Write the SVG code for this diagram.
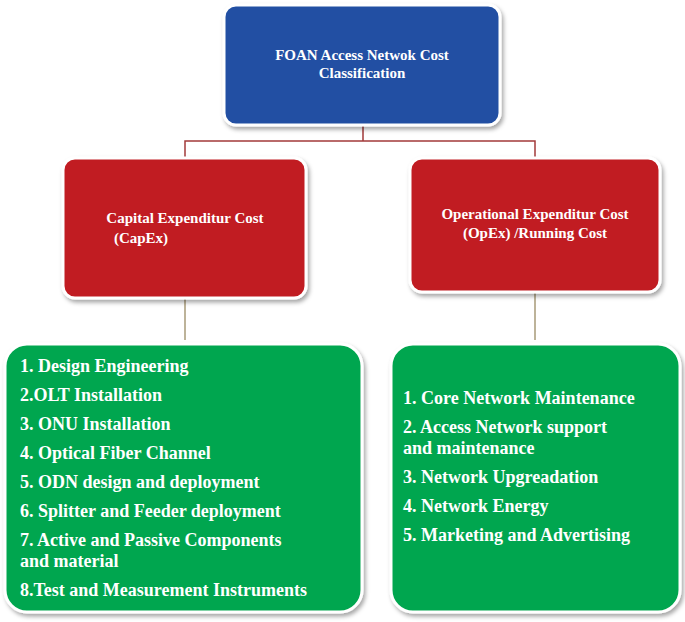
<svg xmlns="http://www.w3.org/2000/svg" width="685" height="622" viewBox="0 0 685 622">
<defs>
<filter id="sh" x="-10%" y="-10%" width="120%" height="120%"><feDropShadow dx="2" dy="3" stdDeviation="2" flood-color="#000" flood-opacity="0.35"/></filter>
<style>
.b{stroke:#fff;stroke-width:3;filter:url(#sh)}
.t{font-family:"Liberation Serif",serif;font-weight:bold;fill:#fff}
.h{font-size:15px;text-anchor:middle}
.l{font-size:18px}
</style>
</defs>
<rect width="685" height="622" fill="#fff"/>
<g id="connectors" fill="none">
<path d="M363 125V141H185V158M363 141H535V158" stroke="#a33a3a" stroke-width="1.5"/>
<path d="M185 298V340M535 292V340" stroke="#a89a78" stroke-width="1.5"/>
</g>
<g id="root"><rect class="b" x="224" y="5" width="276" height="120" rx="12" fill="#2150a3"/>
<text class="t h" x="362" y="60">FOAN Access Netwok Cost</text><text class="t h" x="362" y="78">Classification</text></g>
<g id="capex"><rect class="b" x="63" y="158" width="243" height="140" rx="12" fill="#c11b20"/>
<text class="t h" x="185" y="223">Capital Expenditur Cost</text><text class="t h" x="141" y="243">(CapEx)</text></g>
<g id="opex"><rect class="b" x="410" y="158" width="250" height="134" rx="12" fill="#c11b20"/>
<text class="t h" x="535" y="219">Operational Expenditur Cost</text><text class="t h" x="535" y="238">(OpEx) /Running Cost</text></g>
<g id="capex-list"><rect class="b" x="5" y="344" width="357" height="268" rx="22" fill="#02a64f"/>
<text class="t l" x="20" y="372">1. Design Engineering</text>
<text class="t l" x="20" y="401">2.OLT Installation</text>
<text class="t l" x="20" y="430">3. ONU Installation</text>
<text class="t l" x="20" y="459">4. Optical Fiber Channel</text>
<text class="t l" x="20" y="488">5. ODN design and deployment</text>
<text class="t l" x="20" y="517">6. Splitter and Feeder deployment</text>
<text class="t l" x="20" y="546">7. Active and Passive Components</text>
<text class="t l" x="20" y="567">and material</text>
<text class="t l" x="20" y="596">8.Test and Measurement Instruments</text></g>
<g id="opex-list"><rect class="b" x="391" y="344" width="289" height="268" rx="22" fill="#02a64f"/>
<text class="t l" x="403" y="404">1. Core Network Maintenance</text>
<text class="t l" x="403" y="433">2. Access Network  support</text>
<text class="t l" x="403" y="454">and maintenance</text>
<text class="t l" x="403" y="483">3. Network Upgreadation</text>
<text class="t l" x="403" y="512">4. Network Energy</text>
<text class="t l" x="403" y="541">5. Marketing and Advertising</text></g>
</svg>
